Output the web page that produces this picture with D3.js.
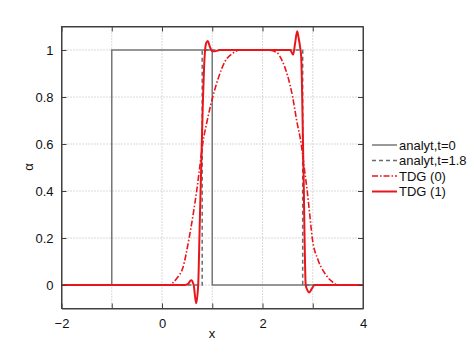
<!DOCTYPE html>
<html>
<head>
<meta charset="utf-8">
<script src="https://cdn.jsdelivr.net/npm/d3@7"></script>
<style>
  body { margin: 0; background: #fff; }
  text { font-family: "Liberation Sans", Arial, sans-serif; }
</style>
</head>
<body>
<svg></svg>
<script>
// step solutions
var analyt0X = [-2, -1, -1, 1, 1, 4];
var analyt0Y = [0, 0, 1, 1, 0, 0];
var analyt18X = [-2, 0.8, 0.8, 2.8, 2.8, 4];
var analyt18Y = [0, 0, 1, 1, 0, 0];

// TDG (0)
var tdg0X = [-2, 0.15, 0.22, 0.3, 0.41, 0.54, 0.62, 0.69, 0.75, 0.81, 0.9, 1.01, 1.12, 1.25, 1.4, 1.55, 1.8, 2.1, 2.28, 2.4, 2.5, 2.6, 2.68, 2.77, 2.83, 2.89, 2.94, 2.99, 3.1, 3.24, 3.38, 3.5, 4];
var tdg0Y = [0, 0, 0.01, 0.03, 0.07, 0.2, 0.3, 0.4, 0.5, 0.6, 0.7, 0.8, 0.88, 0.95, 0.985, 1.0, 1.0, 1.0, 0.99, 0.95, 0.89, 0.8, 0.7, 0.6, 0.5, 0.4, 0.3, 0.2, 0.11, 0.05, 0.015, 0, 0];

// TDG (1)
var tdg1X = [-2, 0.45, 0.52, 0.58, 0.63, 0.68, 0.72, 0.75, 0.78, 0.81, 0.845, 0.88, 0.91, 0.95, 1.0, 1.05, 1.15, 2.45, 2.55, 2.61, 2.65, 2.69, 2.72, 2.75, 2.77, 2.815, 2.86, 2.9, 2.93, 2.97, 3.04, 4];
var tdg1Y = [0, 0, 0.005, 0.02, 0.0, -0.078, 0.0, 0.25, 0.5, 0.75, 0.96, 1.03, 1.038, 1.015, 0.995, 0.995, 1.0, 1.0, 1.0, 0.98, 1.03, 1.08, 1.05, 1.01, 0.97, 0.5, 0.0, -0.025, -0.032, -0.02, 0, 0];

var xTicks = [-2, -1, 0, 1, 2, 3, 4];
var xLabels = [-2, 0, 2, 4];
var yTicks = [0, 0.2, 0.4, 0.6, 0.8, 1];

var svgWidth = 474, svgHeight = 355;
var plotLeft = 61.5, plotRight = 363, plotTop = 26.5, plotBottom = 308.5;

var svg = d3.select("svg")
    .attr("width", svgWidth)
    .attr("height", svgHeight);

var xScale = d3.scaleLinear().domain([-2, 4]).range([plotLeft, plotRight]);
var yScale = d3.scaleLinear().domain([-0.1, 1.1]).range([plotBottom, plotTop]);

// grid
svg.append("g").selectAll("line").data(xTicks.slice(1, -1)).enter().append("line")
    .attr("x1", d => xScale(d)).attr("x2", d => xScale(d))
    .attr("y1", plotTop).attr("y2", plotBottom)
    .attr("stroke", "#b4b4b4").attr("stroke-width", 1).attr("stroke-dasharray", "1,2");
svg.append("g").selectAll("line").data(yTicks).enter().append("line")
    .attr("x1", plotLeft).attr("x2", plotRight)
    .attr("y1", d => yScale(d)).attr("y2", d => yScale(d))
    .attr("stroke", "#b4b4b4").attr("stroke-width", 1).attr("stroke-dasharray", "1,2");

// curves
function series(xs, ys) { return xs.map((x, i) => [x, ys[i]]); }
var line = d3.line().x(d => xScale(d[0])).y(d => yScale(d[1]));
var smooth = d3.line().x(d => xScale(d[0])).y(d => yScale(d[1])).curve(d3.curveMonotoneX);

var lines = [
  { name: "analyt,t=0", pts: series(analyt0X, analyt0Y), gen: line, color: "#777777", w: 1.5, dash: null },
  { name: "analyt,t=1.8", pts: series(analyt18X, analyt18Y), gen: line, color: "#6a6a6a", w: 1.5, dash: "4,3" },
  { name: "TDG (0)", pts: series(tdg0X, tdg0Y), gen: smooth, color: "#e8161b", w: 1.6, dash: "6,2,1.5,2" },
  { name: "TDG (1)", pts: series(tdg1X, tdg1Y), gen: smooth, color: "#e8161b", w: 2, dash: null }
];

svg.append("clipPath").attr("id", "clip").append("rect")
    .attr("x", plotLeft).attr("y", plotTop)
    .attr("width", plotRight - plotLeft).attr("height", plotBottom - plotTop);

lines.forEach(function(s) {
  svg.append("path")
    .attr("clip-path", "url(#clip)")
    .attr("d", s.gen(s.pts))
    .attr("fill", "none")
    .attr("stroke", s.color)
    .attr("stroke-width", s.w)
    .attr("stroke-dasharray", s.dash);
});

// axes box with inward ticks
var x_axis = d3.axisBottom(xScale).tickValues(xTicks).tickSizeInner(-5).tickSizeOuter(0)
    .tickPadding(10).tickFormat(d => xLabels.indexOf(d) >= 0 ? d3.format("")(d).replace("-", "\u2212") : "");
var x_top = d3.axisTop(xScale).tickValues(xTicks).tickSizeInner(-5).tickSizeOuter(0).tickFormat("");
var y_axis = d3.axisLeft(yScale).tickValues(yTicks).tickSizeInner(-5).tickSizeOuter(0)
    .tickPadding(8).tickFormat(d3.format(""));
var y_right = d3.axisRight(yScale).tickValues(yTicks).tickSizeInner(-5).tickSizeOuter(0).tickFormat("");

var axisColor = "#404040";
[
  [x_axis, "translate(0," + plotBottom + ")"],
  [x_top, "translate(0," + plotTop + ")"],
  [y_axis, "translate(" + plotLeft + ",0)"],
  [y_right, "translate(" + plotRight + ",0)"]
].forEach(function(a) {
  var g = svg.append("g").attr("transform", a[1]).call(a[0]);
  g.selectAll("path, line").attr("stroke", axisColor);
  g.selectAll("text").attr("fill", "#111").style("font-size", "13px")
    .style("font-family", "'Liberation Sans', Arial, sans-serif");
});

svg.append("rect")
    .attr("x", plotLeft).attr("y", plotTop)
    .attr("width", plotRight - plotLeft).attr("height", plotBottom - plotTop)
    .attr("fill", "none").attr("stroke", axisColor).attr("stroke-width", 1);

// axis labels
svg.append("text").attr("x", 212).attr("y", 338).attr("text-anchor", "middle")
    .style("font-size", "13px").attr("fill", "#111").text("x");
svg.append("text").attr("transform", "translate(33,167) rotate(-90)").attr("text-anchor", "middle")
    .style("font-size", "13px").attr("fill", "#111").text("\u03b1");

// legend
var legend = svg.append("g").attr("transform", "translate(372,145)");
lines.forEach(function(s, i) {
  var row = legend.append("g").attr("transform", "translate(0," + (i * 15.5) + ")");
  row.append("line").attr("x1", 0).attr("x2", 25).attr("y1", 0).attr("y2", 0)
    .attr("stroke", s.color).attr("stroke-width", s.w).attr("stroke-dasharray", s.dash);
  row.append("text").attr("x", 27).attr("y", 4.5)
    .style("font-size", "13px").attr("fill", "#111").text(s.name);
});
</script>
</body>
</html>
